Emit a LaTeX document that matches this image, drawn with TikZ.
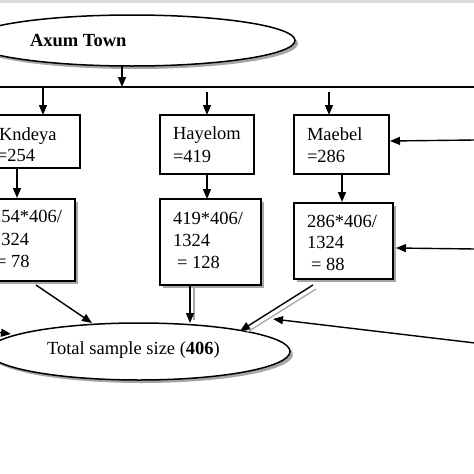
\documentclass[tikz,border=0pt]{standalone}
\usepackage{fontspec}
\setmainfont{Liberation Serif}
\usetikzlibrary{arrows.meta,shapes.geometric,shadows}
\begin{document}
\begin{tikzpicture}[x=1pt,y=-1pt,
  every node/.style={inner sep=0pt,outer sep=0pt},
  ln/.style={line width=1.4pt},
  arr/.style={ln,-{Triangle[length=10pt,width=8pt]}},
  sh/.style={drop shadow={shadow xshift=3pt,shadow yshift=-3pt,fill=black!35,opacity=1}},
  namebox/.style={draw,line width=1.4pt,fill=white,anchor=north west},
  calcbox/.style={draw,line width=1.4pt,fill=white,anchor=north west,sh},
  oval/.style={ellipse,draw,line width=1.5pt,fill=white,sh},
  txt/.style={anchor=base west,font=\fontsize{18.5}{22}\selectfont},
  shline/.style={line width=1.3pt,black!35}
]
\useasboundingbox (0,0) rectangle (474,474);
\fill[black!14] (0,0) rectangle (474,3);

% ellipses
\node[oval,minimum width=326pt,minimum height=51pt] (axum) at (132,40.5) {};
\node[txt,font=\fontsize{18.5}{22}\selectfont\bfseries] (axumt) at (30,46) {Axum Town};

% boxes
\node[namebox,minimum width=96pt,minimum height=53pt] (kn) at (-16,115) {};
\node[namebox,minimum width=94pt,minimum height=59pt] (hay) at (160,115) {};
\node[namebox,minimum width=95pt,minimum height=59pt] (mae) at (294,115) {};
\node[calcbox,minimum width=96pt,minimum height=82pt] (kc) at (-21,199) {};
\node[calcbox,minimum width=101pt,minimum height=86pt] (hc) at (160,199) {};
\node[calcbox,minimum width=99pt,minimum height=76pt] (mc) at (294,203) {};

\node[txt] (t1) at (-1,140) {Kndeya};
\node[txt] (t2) at (-3,161) {=254};
\node[txt] (t3) at (-8,222) {254*406/};
\node[txt] (t4) at (-8,245) {1324};
\node[txt] (t5) at (-4,267) {= 78};

\node[txt] (t6) at (173,139.5) {Hayelom};
\node[txt] (t7) at (173,162) {=419};
\node[txt] (t8) at (173,224) {419*406/};
\node[txt] (t9) at (173,246.5) {1324};
\node[txt] (t10) at (177,268) {= 128};

\node[txt] (t11) at (307,140) {Maebel};
\node[txt] (t12) at (307,162) {=286};
\node[txt] (t13) at (307,227) {286*406/};
\node[txt] (t14) at (307,248) {1324};
\node[txt] (t15) at (311,270) {= 88};

% connectors at the top
\coordinate (busL) at (0,87);
\coordinate (busR) at (474,87);
\coordinate (axb) at (122,66);
\coordinate (busA) at (122,87);
\coordinate (busK) at (43,87);
\coordinate (hayin) at (207,92);
\coordinate (maein) at (329,92);
\draw[ln] (busL) -- (busR);
\draw[arr] (axb) -- (busA);
\draw[arr] (busK) -- (busK |- kn.north);
\draw[arr] (hayin) -- (hayin |- hay.north);
\draw[arr] (maein) -- (maein |- mae.north);

% box to calc
\draw[arr] (17,168) -- (17,198);
\draw[arr] (hay.south) -- (hay.south |- hc.north);
\draw[arr] (mae.south -| 342,0) -- (342,202);

% total
\node[oval,minimum width=302pt,minimum height=57pt] (tot) at (139,351.5) {};
\node[txt] (tott) at (47,354) {Total sample size (\textbf{406})};

\coordinate (kcout) at (36,285);
\coordinate (totA) at (92,323);
\draw[arr] (kcout) -- (totA);

\coordinate (hcout) at (190,286);
\coordinate (totB) at (190,323);
\draw[shline] (194,286) -- (194,320);
\draw[arr] (hcout) -- (totB);

\coordinate (mcout) at (313,285);
\coordinate (totC) at (240,331);
\draw[shline] (316,289) -- (246,333);
\draw[arr] (mcout) -- (totC);

% right side inputs
\coordinate (r1) at (475,140);
\coordinate (r2) at (475,249);
\coordinate (r3) at (475,343);
\coordinate (totD) at (273,319);
\draw[arr] (r1) -- (390,141);
\draw[arr] (r2) -- (396,248);
\draw[arr] (r3) -- (totD);

% left input
\coordinate (l1) at (-20,330);
\coordinate (totE) at (11,334);
\draw[arr] (l1) -- (totE);
\end{tikzpicture}
\end{document}
